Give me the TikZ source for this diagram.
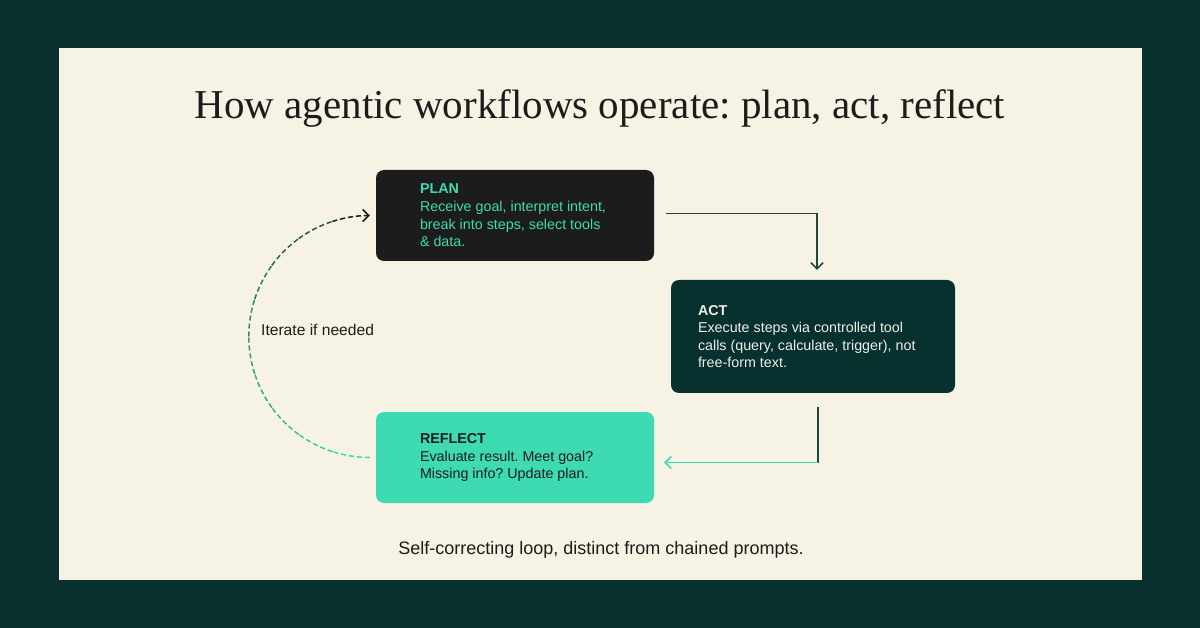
\documentclass[tikz,border=0pt]{standalone}
\usepackage{fontspec}
\setmainfont{Liberation Sans}
\newfontfamily\titlefont{Liberation Serif}
\usepackage{xcolor}
\usetikzlibrary{arrows.meta,calc}
\frenchspacing

\definecolor{pagedark}{HTML}{0A302D}
\definecolor{cream}{HTML}{F6F3E4}
\definecolor{planfill}{HTML}{1C1C1C}
\definecolor{actfill}{HTML}{07312F}
\definecolor{mint}{HTML}{3EDBB3}
\definecolor{acttext}{HTML}{F0EEE4}
\definecolor{inkdark}{HTML}{1C1C1C}
\definecolor{linkdark}{HTML}{1F4540}

\begin{document}
\begin{tikzpicture}[
    x=1pt,
    y=1pt,
    box/.style={rounded corners=8pt,inner sep=0pt,minimum width=278pt,minimum height=91pt},
    boxtext/.style={anchor=west,align=left,inner sep=0pt,font=\fontsize{14.3}{17.6}\selectfont},
    flow/.style={line width=1.6pt,-{Straight Barb[length=6pt,width=12pt,line width=1.6pt]}},
    loopline/.style={line width=1.5pt,dash pattern=on 5pt off 3pt}
]

% Page and panel.
\fill[pagedark] (0,0) rectangle (1200,-628);
\fill[cream] (59,-48) rectangle (1142,-580);

% Heading.
\node[font=\titlefont\fontsize{41}{48}\selectfont,text=inkdark,anchor=base] (title) at (600,-119)
    {How agentic workflows operate: plan, act, reflect};

% Steps of the loop.
\node[box,fill=planfill] (plan) at (515,-215.5) {};
\node[boxtext,text=mint] (plantext) at ([xshift=44pt]plan.west)
    {\textbf{PLAN}\\Receive goal, interpret intent,\\break into steps, select tools\\\& data.};

\node[box,fill=actfill,minimum width=284pt,minimum height=113pt] (act) at (813,-336.5) {};
\node[boxtext,text=acttext] (acttext) at ([xshift=27pt]act.west)
    {\textbf{ACT}\\Execute steps via controlled tool\\calls (query, calculate, trigger), not\\free-form text.};

\node[box,fill=mint] (reflect) at (515,-457.5) {};
\node[boxtext,text=inkdark] (reflecttext) at ([xshift=44pt]reflect.west)
    {\textbf{REFLECT}\\Evaluate result. Meet goal?\\Missing info? Update plan.};

% Plan to act.
\draw[flow,linkdark] ([xshift=12pt,yshift=2pt]plan.east) -| ([xshift=4pt,yshift=10pt]act.north);

% Act to reflect, fading into mint.
\coordinate (actout) at ([xshift=5pt,yshift=-14pt]act.south);
\coordinate (reflectin) at ([xshift=10pt,yshift=-5pt]reflect.east);
\coordinate (turn) at (actout |- reflectin);
\draw[line width=1.6pt,linkdark] (actout) -- (turn);
\draw[flow,mint] (turn) -- (reflectin);

% Dashed return arc, from mint at the bottom to dark at the top.
\coordinate (loopc) at ($($(plan.west)!0.5!(reflect.west)$)+(-6,0)$);
\foreach \i in {0,...,8} {
    \pgfmathtruncatemacro\mixval{100-\i*11}
    \draw[loopline,color=mint!\mixval!linkdark] (loopc) ++({270-18*\i}:121)
        arc[start angle={270-18*\i},delta angle=-18,radius=121];
}
\draw[loopline,color=planfill,-{Straight Barb[length=6pt,width=12pt,line width=1.5pt]}]
    (loopc) ++(108:121) arc[start angle=108,delta angle=-18,radius=121];
\node[font=\fontsize{15.6}{18}\selectfont,text=inkdark,anchor=west,inner sep=0pt] (iterate) at (261,-330)
    {Iterate if needed};

% Closing note.
\node[font=\fontsize{18}{21}\selectfont,text=inkdark,anchor=base] (note) at (601,-554)
    {Self-correcting loop, distinct from chained prompts.};

\end{tikzpicture}
\end{document}
